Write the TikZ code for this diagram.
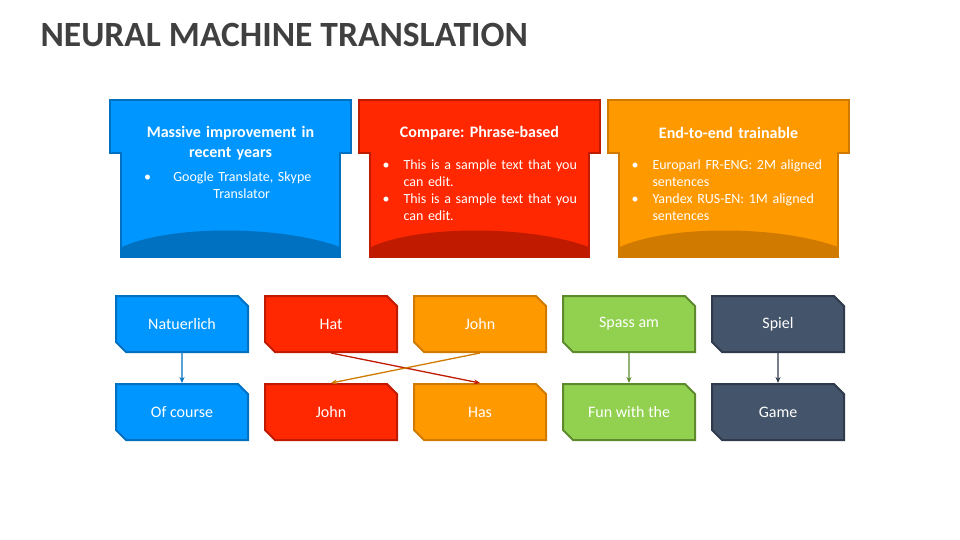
\documentclass[tikz,border=0pt]{standalone}
\usepackage{fontspec}
\setmainfont{Carlito}
\usetikzlibrary{shapes.misc,arrows.meta}
\frenchspacing
\definecolor{cblue}{HTML}{0096FF}\definecolor{dblue}{HTML}{0070C0}
\definecolor{cred}{HTML}{FF2800}\definecolor{dred}{HTML}{C01A00}
\definecolor{corange}{HTML}{FF9900}\definecolor{dorange}{HTML}{D07A00}
\definecolor{cgreen}{HTML}{92D050}\definecolor{dgreen}{HTML}{5E8A2E}
\definecolor{cslate}{HTML}{44546A}\definecolor{dslate}{HTML}{2F3B4C}
\tikzset{
  wordbox/.style={chamfered rectangle, chamfered rectangle corners={north east,south west},
    chamfered rectangle xsep=5pt, chamfered rectangle ysep=5pt,
    minimum width=132pt, minimum height=56pt, line width=2pt, text=white, font=\fontsize{16}{18}\selectfont},
  link/.style={-{Stealth[length=6pt,width=5pt]}, line width=1.3pt},
  panelhead/.style={text=white, font=\bfseries\fontsize{16}{20}\selectfont, align=center, text width=220pt},
  paneltext/.style={text=white, font=\fontsize{14}{17}\selectfont, text width=205pt}
}
\newcommand{\panel}[3]{% x-left, fill, dark
  \fill[#2, draw=#3, line width=1.5pt] (#1,100) -- ++(241,0) -- ++(0,53) -- ++(-11,0) -- ++(0,104)
    -- ++(-219,0) -- ++(0,-104) -- ++(-11,0) -- cycle;
  \fill[#3] (#1+12,247) .. controls (#1+60,225) and (#1+170,225) .. (#1+230,247) -- (#1+230,257) -- (#1+12,257) -- cycle;
}
\newcommand{\bulletlist}[1]{\begin{list}{\textbullet}{\leftmargin=26pt\labelsep=14pt\itemsep=0pt\parsep=0pt\topsep=0pt}\raggedright#1\end{list}}
\begin{document}
\begin{tikzpicture}[x=1pt,y=-1pt]
\useasboundingbox (0,0) rectangle (960,540);
\node[anchor=west, text=black!75, font=\bfseries\fontsize{35.5}{38}\selectfont] (title) at (37,35) {NEURAL MACHINE TRANSLATION};
% top panels
\panel{110}{cblue}{dblue}
\panel{359}{cred}{dred}
\panel{608}{corange}{dorange}
\node[panelhead] (h1) at (230.5,143) {Massive improvement in\\recent years};
\node[paneltext, align=center, anchor=north] (t1) at (230.5,168) {\hspace*{-0.4em}\textbullet\hspace{1.6em}Google Translate, Skype\\\hspace*{1.6em}Translator};
\node[panelhead] (h2) at (479.5,133) {Compare: Phrase-based};
\node[paneltext, anchor=north] (t2) at (480,149) {\bulletlist{\item This is a sample text that you can edit.\item This is a sample text that you can edit.}};
\node[panelhead] (h3) at (728.5,133) {End-to-end trainable};
\node[paneltext, anchor=north] (t3) at (729,149) {\bulletlist{\item Europarl FR-ENG: 2M aligned sentences\item Yandex RUS-EN: 1M aligned sentences}};
% word boxes
\node[wordbox, fill=cblue, draw=dblue] (natuerlich) at (182,324) {Natuerlich};
\node[wordbox, fill=cred, draw=dred] (hat) at (331,324) {Hat};
\node[wordbox, fill=corange, draw=dorange] (johnde) at (480,324) {John};
\node[wordbox, fill=cgreen, draw=dgreen] (spass) at (629,324) {Spass am};
\node[wordbox, fill=cslate, draw=dslate] (spiel) at (778,324) {Spiel};
\node[wordbox, fill=cblue, draw=dblue] (ofcourse) at (182,412) {Of course};
\node[wordbox, fill=cred, draw=dred] (johnen) at (331,412) {John};
\node[wordbox, fill=corange, draw=dorange] (has) at (480,412) {Has};
\node[wordbox, fill=cgreen, draw=dgreen] (funwith) at (629,412) {Fun with the};
\node[wordbox, fill=cslate, draw=dslate] (game) at (778,412) {Game};
% alignments
\draw[link, dblue] (natuerlich) -- (ofcourse);
\draw[link, dred] (hat.south) -- (has.north);
\draw[link, dorange] (johnde.south) -- (johnen.north);
\draw[link, dgreen] (spass) -- (funwith);
\draw[link, dslate] (spiel) -- (game);
\end{tikzpicture}
\end{document}
